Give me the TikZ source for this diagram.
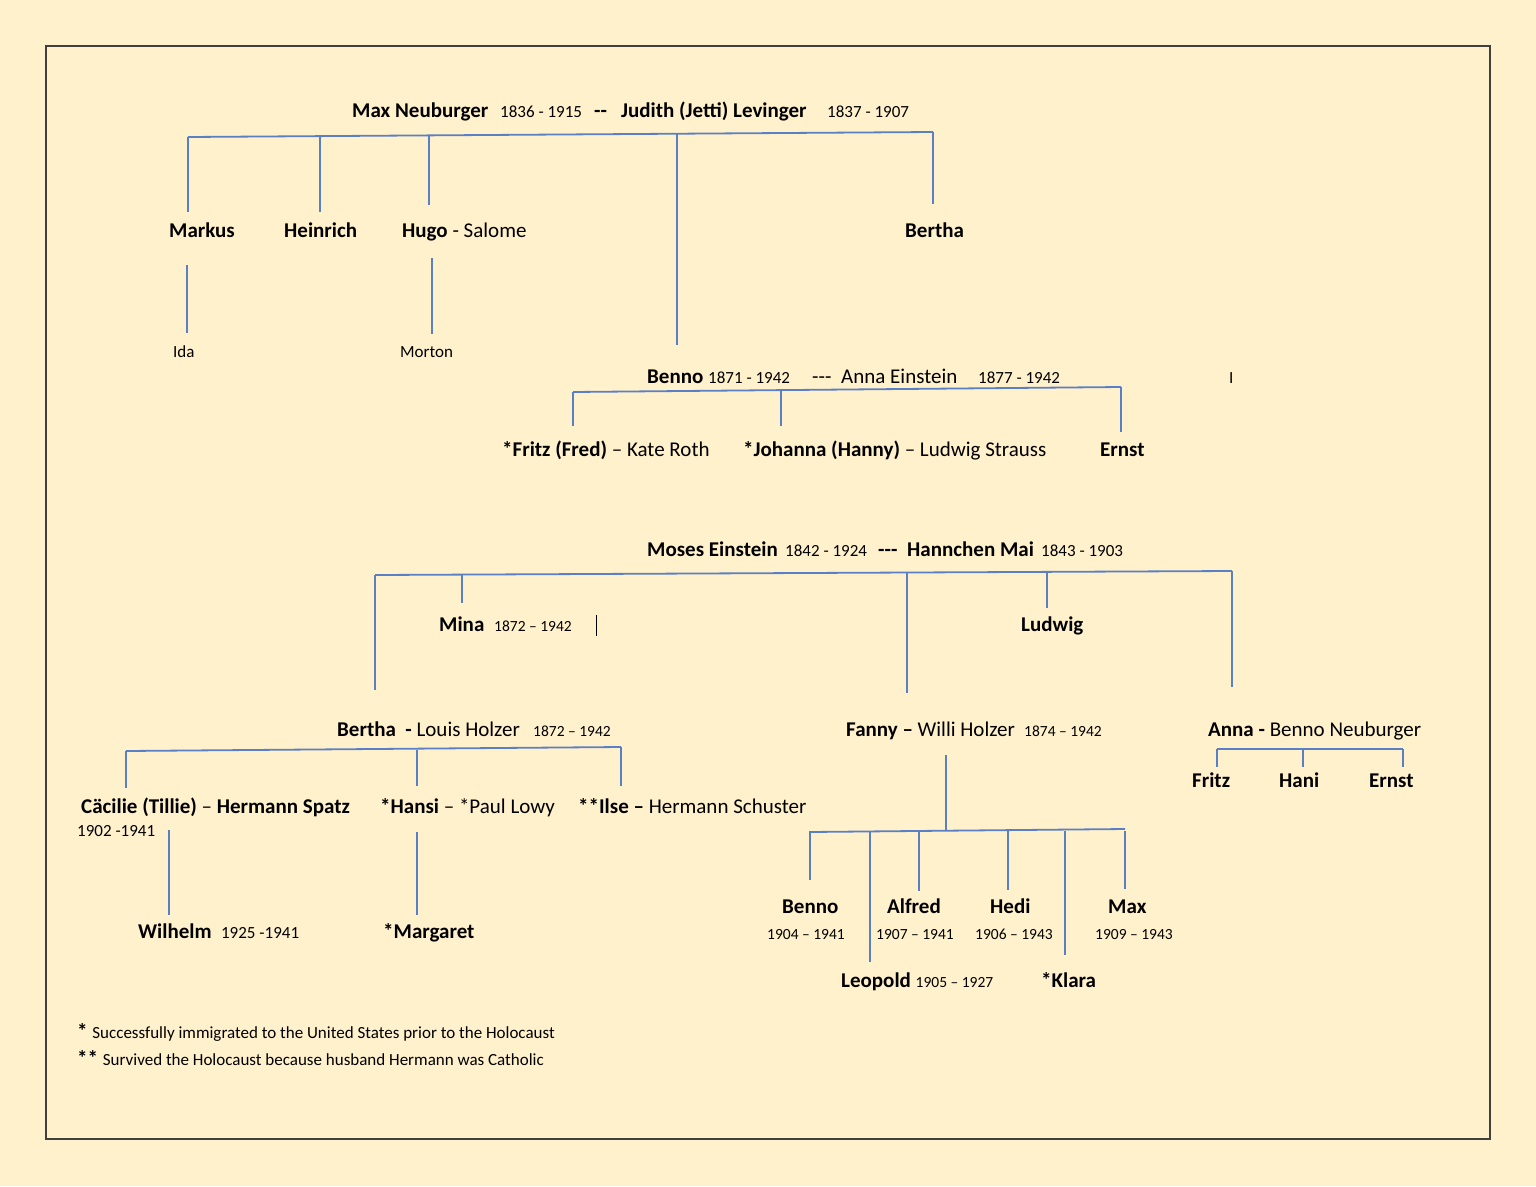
\documentclass[tikz,border=0pt]{standalone}
\usepackage{fontspec}
\setmainfont{Carlito}
\definecolor{bg}{HTML}{FFF1CC}
\definecolor{ln}{HTML}{5B7FC4}
\newcommand{\B}{\fontsize{21}{23}\selectfont\bfseries}
\newcommand{\R}{\fontsize{21}{23}\selectfont\mdseries}
\newcommand{\D}{\fontsize{17}{19}\selectfont\mdseries}
\newcommand{\Ds}{\fontsize{15.5}{17}\selectfont\mdseries}
\newcommand{\Tx}[4]{\node[txt] (#1) at (#2,#3+6) {#4};}
\begin{document}
\begin{tikzpicture}[x=1pt,y=-1pt,
  txt/.style={anchor=base west,inner sep=0pt},
  ln/.style={draw=ln,line width=1.8pt}]
\fill[bg] (0,0) rectangle (1536,1186);
\useasboundingbox (0,0) rectangle (1536,1186);
\draw[line width=1.3pt,black!75] (46,46) rectangle (1490,1139);
% generation 1
\Tx{a1}{352}{111}{\B Max Neuburger}
\Tx{a2}{500}{111}{\D 1836 - 1915}
\Tx{a3}{594}{111}{\B -{}-}
\Tx{a4}{621}{111}{\B Judith (Jetti) Levinger}
\Tx{a5}{827}{111}{\D 1837 - 1907}
\draw[ln] (188,137) -- (933,132);
\foreach \x/\a/\b in {188/137/212,320/137/212,429/136/205,677/134/345,933/132/204}
  \draw[ln] (\x,\a) -- (\x,\b);
\Tx{b1}{169}{231}{\B Markus}
\Tx{b2}{284}{231}{\B Heinrich}
\Tx{b3}{402}{231}{\B Hugo \R- Salome}
\Tx{b4}{905}{231}{\B Bertha}
\draw[ln] (187,265) -- (187,333);
\draw[ln] (432,258) -- (432,334);
\Tx{c1}{173}{351}{\D Ida}
\Tx{c2}{400}{351}{\D Morton}
\Tx{d1}{647}{377}{\B Benno}
\Tx{d2}{708}{377}{\D 1871 - 1942}
\Tx{d3}{812}{377}{\R -{}-{}-}
\Tx{d4}{841}{377}{\R Anna Einstein}
\Tx{d5}{978}{377}{\D 1877 - 1942}
\Tx{d6}{1229}{377}{\D I}
\draw[ln] (573,392) -- (1121,387);
\draw[ln] (573,392) -- (573,426);
\draw[ln] (781,391) -- (781,426);
\draw[ln] (1121,387) -- (1121,432);
\Tx{e1}{502}{450}{\B *Fritz (Fred) \R– Kate Roth}
\Tx{e2}{743}{450}{\B *Johanna (Hanny) \R– Ludwig Strauss}
\Tx{e3}{1100}{450}{\B Ernst}
% Einstein
\Tx{f1}{647}{550}{\B Moses Einstein}
\Tx{f2}{785}{550}{\D 1842 - 1924}
\Tx{f3}{878}{550}{\B -{}-{}-}
\Tx{f4}{907}{550}{\B Hannchen Mai}
\Tx{f5}{1041}{550}{\D 1843 - 1903}
\draw[ln] (375,575) -- (1232,571);
\foreach \x/\a/\b in {375/575/690,462/575/603,907/573/693,1047/573/608,1232/571/687}
  \draw[ln] (\x,\a) -- (\x,\b);
\Tx{g1}{439}{625}{\B Mina}
\Tx{g2}{494}{625}{\Ds 1872 – 1942}
\draw[black,line width=1pt] (596,615) -- (596,636);
\Tx{g3}{1021}{625}{\B Ludwig}
\Tx{h1}{337}{730}{\B Bertha \ - \R Louis Holzer}
\Tx{h2}{533}{730}{\Ds 1872 – 1942}
\Tx{h3}{846}{730}{\B Fanny – \R Willi Holzer}
\Tx{h4}{1024}{730}{\Ds 1874 – 1942}
\Tx{h5}{1208}{730}{\B Anna - \R Benno Neuburger}
\draw[ln] (126,751) -- (621,747);
\draw[ln] (126,751) -- (126,788);
\draw[ln] (417,750) -- (417,786);
\draw[ln] (621,747) -- (621,786);
\Tx{i1}{81}{807}{\B Cäcilie (Tillie) \R– \B Hermann Spatz}
\Tx{i2}{77}{830}{\D 1902 -1941}
\Tx{i3}{380}{807}{\B *Hansi \R– *Paul Lowy}
\Tx{i4}{578}{807}{\B **Ilse – \R Hermann Schuster}
\draw[ln] (169,830) -- (169,915);
\draw[ln] (417,832) -- (417,915);
\Tx{j1}{138}{932}{\B Wilhelm \ \D 1925 -1941}
\Tx{j2}{383}{932}{\B *Margaret}
\draw[ln] (1217,749) -- (1403,749);
\foreach \x in {1217,1303,1403} \draw[ln] (\x,749) -- (\x,767);
\Tx{k1}{1192}{781}{\B Fritz}
\Tx{k2}{1279}{781}{\B Hani}
\Tx{k3}{1369}{781}{\B Ernst}
\draw[ln] (946,755) -- (946,831);
\draw[ln] (810,832) -- (1125,829);
\foreach \x/\b in {810/880,870/962,919/891,1008/890,1065/955,1125/889}
  \draw[ln] (\x,831) -- (\x,\b);
\Tx{l1}{782}{907}{\B Benno}
\Tx{l2}{887}{907}{\B Alfred}
\Tx{l3}{990}{907}{\B Hedi}
\Tx{l4}{1108}{907}{\B Max}
\Tx{m1}{767}{933}{\Ds 1904 – 1941}
\Tx{m2}{876}{933}{\Ds 1907 – 1941}
\Tx{m3}{975}{933}{\Ds 1906 – 1943}
\Tx{m4}{1095}{933}{\Ds 1909 – 1943}
\Tx{n1}{841}{981}{\B Leopold \Ds 1905 – 1927}
\Tx{n2}{1041}{981}{\B *Klara}
\Tx{o1}{77}{1032}{\B * \D Successfully immigrated to the United States prior to the Holocaust}
\Tx{o2}{77}{1059}{\B *{}* \D Survived the Holocaust because husband Hermann was Catholic}
\end{tikzpicture}
\end{document}
